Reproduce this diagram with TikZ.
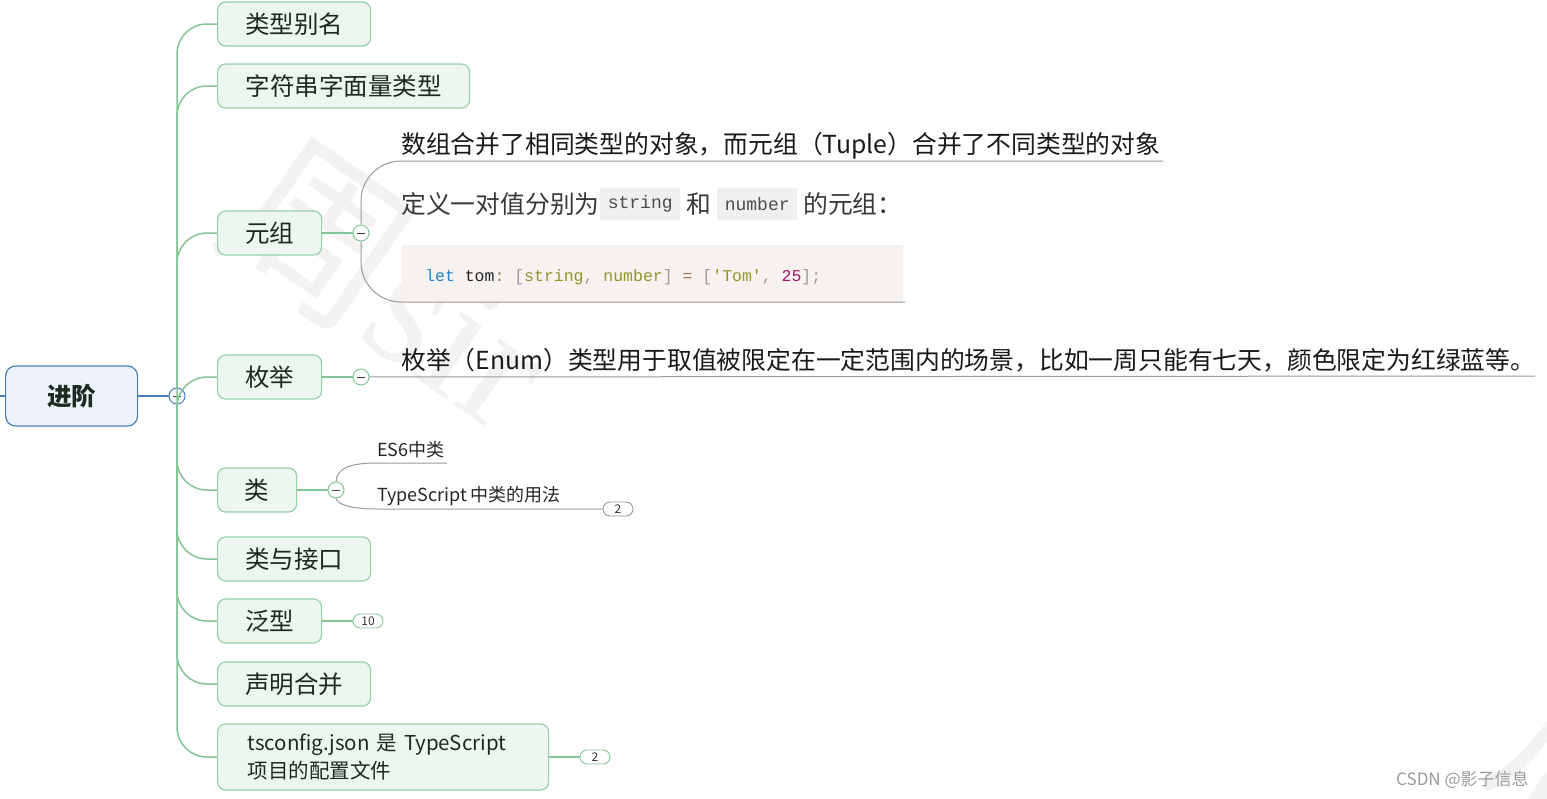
\documentclass[tikz,border=0pt]{standalone}
\usepackage{fontspec}
\setmainfont{Noto Sans CJK SC}
\setmonofont{Liberation Mono}
\newfontfamily\wmserif{Liberation Serif}
\usetikzlibrary{calc}
\definecolor{topicborder}{HTML}{95D0A8}
\definecolor{topicfill}{HTML}{EEF6F0}
\definecolor{branchgreen}{HTML}{84C598}
\definecolor{rootblue}{HTML}{4A7DBA}
\definecolor{rootfill}{HTML}{EEF3FB}
\definecolor{textdark}{HTML}{1C2A20}
\definecolor{detailgray}{HTML}{9A9A9A}
\definecolor{prismbg}{HTML}{F5F2F0}
\definecolor{inlinebg}{HTML}{F0F0F0}
\definecolor{kw}{HTML}{2A86C8}
\definecolor{punc}{HTML}{9A9A9A}
\definecolor{grn}{HTML}{8A9B2A}
\definecolor{numc}{HTML}{A3176A}
\definecolor{opc}{HTML}{9A7A5A}
\definecolor{wm}{HTML}{F4F1F1}
\definecolor{csdngray}{HTML}{9A9A9A}
\tikzset{
  topic/.style={draw=topicborder, fill=topicfill, rounded corners=8pt, line width=1.2pt,
    minimum height=44pt, inner xsep=0pt, anchor=west, text=textdark,
    font=\fontsize{24.5}{28}\selectfont},
  rootbox/.style={draw=rootblue, fill=rootfill, rounded corners=10pt, line width=1.2pt,
    minimum width=132pt, minimum height=60pt, anchor=west, text=textdark,
    font=\fontsize{24.5}{28}\selectfont\bfseries},
  branch/.style={draw=branchgreen, line width=1.5pt, rounded corners=30pt},
  rootline/.style={draw=rootblue, line width=1.3pt},
  detail/.style={draw=detailgray, line width=1pt},
  collapse/.style={circle, fill=white, minimum size=16pt, inner sep=0pt, line width=1pt,
    path picture={\draw[line width=1pt, black!75] ([xshift=-4pt]path picture bounding box.center) -- ([xshift=4pt]path picture bounding box.center);}},
  badge/.style={draw, fill=white, rounded corners=7pt, minimum width=30pt, minimum height=14pt,
    inner sep=0pt, line width=0.9pt, font=\fontsize{12}{12}\selectfont, text=black!80},
  desc/.style={anchor=west, inner sep=0pt, text=black!90, font=\fontsize{24.8}{28}\selectfont},
  small/.style={anchor=west, inner sep=0pt, text=black!85, font=\fontsize{18}{20}\selectfont},
  inl/.style={fill=inlinebg, minimum height=32pt, minimum width=80pt, inner sep=0pt, anchor=west,
    text=black!70, font=\ttfamily\fontsize{18}{20}\selectfont},
}
\begin{document}
\begin{tikzpicture}[x=1pt,y=-1pt]
\useasboundingbox (0,0) rectangle (1547,798);
% watermark
\begin{scope}
\clip (0,0) rectangle (1547,798);
\node[rotate=-35, text=wm, inner sep=0pt] (wm1) at (390,285)
  {\fontsize{175}{175}\selectfont 周\wmserif sir};
\node[rotate=-35, text=wm, inner sep=0pt] (wm2) at (1660,820)
  {\fontsize{175}{175}\selectfont 周\wmserif sir};
\end{scope}

% root
\coordinate (rootin) at (0,396);
\node[rootbox] (root) at (5,396) {进阶};
\node[collapse, draw=rootblue] (c0) at (177,396) {};

% topics
\node[topic, minimum width=153pt] (t1) at (217,24) {类型别名};
\node[topic, minimum width=252pt] (t2) at (217,86) {字符串字面量类型};
\node[topic, minimum width=104pt] (t3) at (217,233) {元组};
\node[topic, minimum width=104pt] (t4) at (217,377) {枚举};
\node[topic, minimum width=79pt] (t5) at (217,490) {类};
\node[topic, minimum width=153pt] (t6) at (217,559) {类与接口};
\node[topic, minimum width=104pt] (t7) at (217,621) {泛型};
\node[topic, minimum width=153pt] (t8) at (217,684) {声明合并};
\node[topic, minimum height=66pt, inner xsep=30pt, text width=271pt, align=left,
      font=\fontsize{20.5}{28}\selectfont] (t9) at (217,757)
  {tsconfig.json 是 TypeScript\\项目的配置文件};

% root links
\draw[rootline] (rootin) -- (root.west);
\draw[rootline] (root.east) -- (c0);
\foreach \t in {t1,t2,t3,t4,t5,t6,t7,t8,t9}
  \draw[branch] (c0) |- (\t.west);

% collapse circles and badges
\node[collapse, draw=branchgreen] (c3) at (361,233) {};
\node[collapse, draw=branchgreen] (c4) at (361,377) {};
\node[collapse, draw=branchgreen] (c5) at (336,490) {};
\node[badge, draw=branchgreen] (b7) at (368,621) {10};
\node[badge, draw=branchgreen] (b9) at (595,757) {2};
\node[badge, draw=detailgray] (b5) at (618,509) {2};
\draw[branch] (t3.east) -- (c3);
\draw[branch] (t4.east) -- (c4);
\draw[branch] (t5.east) -- (c5);
\draw[branch] (t7.east) -- (b7);
\draw[branch] (t9.east) -- (b9);

% tuple details
\coordinate (u3a) at (1163,161);
\coordinate (u3b) at (905,302);
\node[fill=prismbg, minimum width=501pt, minimum height=57pt, inner sep=0pt, anchor=north west] (cb) at (402,245) {};
\draw[detail, rounded corners=40pt] (c3) |- (u3a);
\draw[detail, rounded corners=40pt] (c3) |- (u3b);
\node[desc] (d1) at (401,146) {数组合并了相同类型的对象，而元组（Tuple）合并了不同类型的对象};
\node[desc, text=black!78] (d2a) at (401,204) {定义一对值分别为};
\node[inl] (d2b) at (600,204) {string};
\node[desc, text=black!78] (d2c) at (686,204) {和};
\node[inl] (d2d) at (717,204) {number};
\node[desc, text=black!78] (d2e) at (803,204) {的元组：};
\node[anchor=west, inner sep=0pt, font=\ttfamily\fontsize{16.5}{18}\selectfont] (code) at (425,277)
  {\textcolor{kw}{let} \textcolor{black!85}{tom}\textcolor{opc}{:} \textcolor{punc}{[}\textcolor{grn}{string}\textcolor{punc}{,} \textcolor{grn}{number}\textcolor{punc}{]} \textcolor{opc}{=} \textcolor{punc}{[}\textcolor{grn}{'Tom'}\textcolor{punc}{,} \textcolor{numc}{25}\textcolor{punc}{];}};

% enum details
\coordinate (u4) at (1535,376);
\draw[detail] (c4) -- (u4);
\node[desc] (d4) at (401,360) {枚举（Enum）类型用于取值被限定在一定范围内的场景，比如一周只能有七天，颜色限定为红绿蓝等。};

% class details
\coordinate (u5a) at (447,463);
\node[small] (k1) at (377,450) {ES6中类};
\node[small] (k2) at (377,496) {TypeScript 中类的用法};
\draw[detail] (c5.north) .. controls (337,468) and (350,463) .. (377,463) -- (u5a);
\draw[detail] (c5.south) .. controls (337,504) and (350,509) .. (377,509) -- (b5.west);

% csdn mark
\node[anchor=west, inner sep=0pt, text=csdngray, font=\fontsize{17}{18}\selectfont] (csdn) at (1396,780) {CSDN @影子信息};
\end{tikzpicture}
\end{document}
